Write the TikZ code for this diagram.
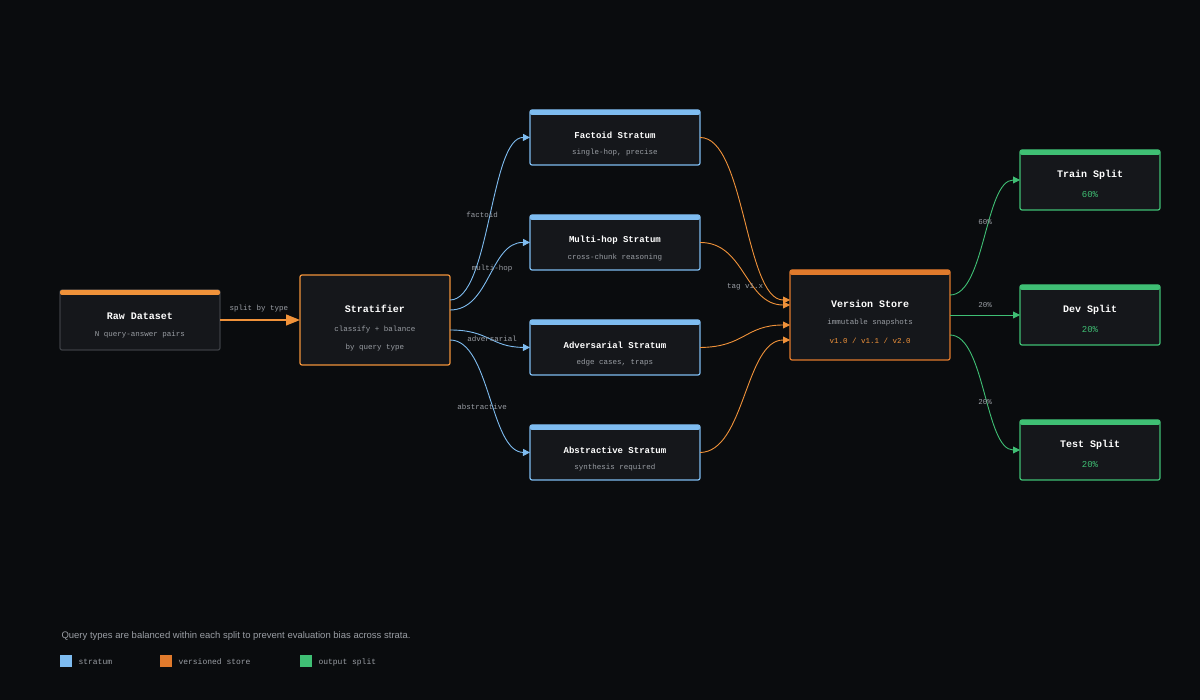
\documentclass[tikz,border=0pt]{standalone}
\usepackage{fontspec}
\setmainfont{Liberation Sans}
\setmonofont{Liberation Mono}
\usetikzlibrary{arrows.meta}
\definecolor{bg}{HTML}{0A0C0E}
\definecolor{boxfill}{HTML}{15171B}
\definecolor{ora}{HTML}{F0923A}
\definecolor{oradark}{HTML}{E07A2C}
\definecolor{blu}{HTML}{7EBCF0}
\definecolor{grn}{HTML}{3FBF74}
\definecolor{gry}{HTML}{9A9EA4}
\definecolor{edgegry}{HTML}{3A3D42}
\tikzset{
  box/.style={draw, fill=boxfill, line width=1.2pt, rounded corners=2pt, minimum width=#1, inner sep=0pt},
  ttl/.style={font=\ttfamily\bfseries\fontsize{10}{12}\selectfont, text=white},
  sub/.style={font=\ttfamily\fontsize{7.5}{9}\selectfont, text=gry},
  elab/.style={font=\ttfamily\fontsize{7.5}{9}\selectfont, text=gry},
  oline/.style={draw=ora, line width=0.9pt, -{Triangle[length=7pt,width=7pt]}},
  bline/.style={draw=blu, line width=0.9pt, -{Triangle[length=7pt,width=7pt]}},
  gline/.style={draw=grn, line width=0.9pt, -{Triangle[length=7pt,width=7pt]}},
}
\newcommand{\card}[7]{% name, x1,y1,x2,y2, border, bar
  \draw[#6, fill=boxfill, line width=1.2pt, rounded corners=2pt] (#2,#3) rectangle (#4,#5);
  \fill[#7, rounded corners=2pt] (#2,#3) rectangle (#4,#3+5);
  \coordinate (#1) at ({(#2+#4)/2},{(#3+#5)/2});
  \coordinate (#1-w) at (#2,{(#3+#5)/2});
  \coordinate (#1-e) at (#4,{(#3+#5)/2});
}
\begin{document}
\begin{tikzpicture}[x=1pt,y=-1pt]
  \fill[bg] (0,0) rectangle (1200,700);
  \useasboundingbox (0,0) rectangle (1200,700);
  % cards
  \card{raw}{60}{290}{220}{350}{edgegry}{ora}
  \node[ttl] at (140,316) {Raw Dataset};
  \node[sub] at (140,335) {N query-answer pairs};
  \draw[ora, fill=boxfill, line width=1.2pt, rounded corners=2pt] (300,275) rectangle (450,365);
  \coordinate (strat-w) at (300,320);
  \node[ttl] at (375,309) {Stratifier};
  \node[sub] at (375,330) {classify + balance};
  \node[sub] at (375,348) {by query type};
  \card{fact}{530}{110}{700}{165}{blu}{blu}
  \node[ttl,font=\ttfamily\bfseries\fontsize{9}{11}\selectfont] at (615,135) {Factoid Stratum};
  \node[sub] at (615,153) {single-hop, precise};
  \card{multi}{530}{215}{700}{270}{blu}{blu}
  \node[ttl,font=\ttfamily\bfseries\fontsize{9}{11}\selectfont] at (615,240) {Multi-hop Stratum};
  \node[sub] at (615,258) {cross-chunk reasoning};
  \card{adv}{530}{320}{700}{375}{blu}{blu}
  \node[ttl,font=\ttfamily\bfseries\fontsize{9}{11}\selectfont] at (615,345) {Adversarial Stratum};
  \node[sub] at (615,363) {edge cases, traps};
  \card{abs}{530}{425}{700}{480}{blu}{blu}
  \node[ttl,font=\ttfamily\bfseries\fontsize{9}{11}\selectfont] at (615,450) {Abstractive Stratum};
  \node[sub] at (615,468) {synthesis required};
  \card{vs}{790}{270}{950}{360}{oradark}{oradark}
  \node[ttl] at (870,304) {Version Store};
  \node[sub] at (870,323) {immutable snapshots};
  \node[sub, text=ora] at (870,341) {v1.0 / v1.1 / v2.0};
  \card{train}{1020}{150}{1160}{210}{grn}{grn}
  \node[ttl] at (1090,175) {Train Split};
  \node[ttl, font=\ttfamily\fontsize{9}{11}\selectfont, text=grn] at (1090,195) {60\%};
  \card{dev}{1020}{285}{1160}{345}{grn}{grn}
  \node[ttl] at (1090,310) {Dev Split};
  \node[ttl, font=\ttfamily\fontsize{9}{11}\selectfont, text=grn] at (1090,330) {20\%};
  \card{test}{1020}{420}{1160}{480}{grn}{grn}
  \node[ttl] at (1090,445) {Test Split};
  \node[ttl, font=\ttfamily\fontsize{9}{11}\selectfont, text=grn] at (1090,465) {20\%};
  % connectors
  \draw[draw=ora, line width=1.2pt, -{Triangle[length=14pt,width=11pt]}] (raw-e) -- (strat-w);
  \node[elab] at (259,309) {split by type};
  \draw[bline] (450,300) .. controls (490,300) and (490,137) .. (fact-w);
  \draw[bline] (450,310) .. controls (490,310) and (490,242) .. (multi-w);
  \draw[bline] (450,330) .. controls (490,330) and (490,347) .. (adv-w);
  \draw[bline] (450,340) .. controls (490,340) and (490,452) .. (abs-w);
  \node[elab] at (482,215) {factoid};
  \node[elab] at (492,269) {multi-hop};
  \node[elab] at (492,339) {adversarial};
  \node[elab] at (482,407) {abstractive};
  \draw[oline] (fact-e) .. controls (745,137) and (745,300) .. (790,300);
  \draw[oline] (multi-e) .. controls (745,242) and (745,305) .. (790,305);
  \draw[oline] (adv-e) .. controls (745,347) and (745,325) .. (790,325);
  \draw[oline] (abs-e) .. controls (745,452) and (745,340) .. (790,340);
  \node[elab] at (745,287) {tag v1.x};
  \draw[gline] (950,295) .. controls (985,295) and (985,180) .. (train-w);
  \draw[gline] (950,315) -- (dev-w);
  \draw[gline] (950,335) .. controls (985,335) and (985,450) .. (test-w);
  \node[elab] at (985,222) {60\%};
  \node[elab] at (985,305) {20\%};
  \node[elab] at (985,402) {20\%};
  % footer
  \node[anchor=west, text=gry, font=\fontsize{9.5}{11}\selectfont] at (58,636) {Query types are balanced within each split to prevent evaluation bias across strata.};
  \fill[blu] (60,655) rectangle (72,667);
  \node[anchor=west, elab, font=\ttfamily\fontsize{8}{10}\selectfont] at (75,662) {stratum};
  \fill[oradark] (160,655) rectangle (172,667);
  \node[anchor=west, elab, font=\ttfamily\fontsize{8}{10}\selectfont] at (175,662) {versioned store};
  \fill[grn] (300,655) rectangle (312,667);
  \node[anchor=west, elab, font=\ttfamily\fontsize{8}{10}\selectfont] at (315,662) {output split};
\end{tikzpicture}
\end{document}
